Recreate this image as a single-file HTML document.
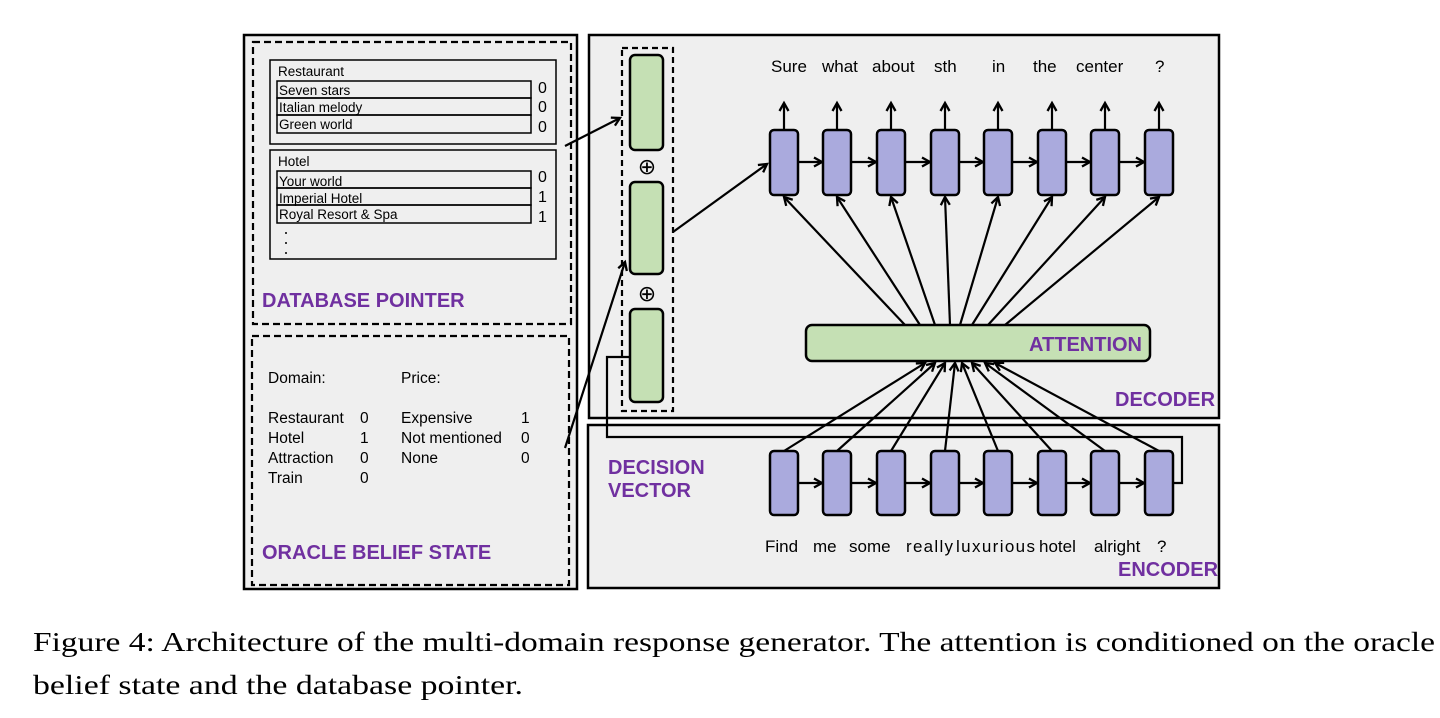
<!DOCTYPE html>
<html><head><meta charset="utf-8"><style>
html,body{margin:0;padding:0;background:#fff;}
svg{display:block;}
.sans{font-family:"Liberation Sans",sans-serif;}
.p{fill:#7030a0;font-weight:bold;font-size:20px;}
.t{font-size:13.5px;}
.s{font-size:16px;}
.cap{font-family:"Liberation Serif",serif;font-size:27px;}
</style></head><body>
<svg width="1440" height="718" viewBox="0 0 1440 718" xmlns="http://www.w3.org/2000/svg">
<defs>
<marker id="a" markerWidth="12" markerHeight="12" refX="9" refY="6" orient="auto" markerUnits="userSpaceOnUse">
<path d="M1,1.5 L9,6 L1,10.5" fill="none" stroke="#000" stroke-width="2.3"/>
</marker>
</defs>
<g class="sans">
<!-- left panel -->
<rect x="244" y="35" width="333" height="554" fill="#efefef" stroke="#000" stroke-width="2.5"/>
<rect x="253" y="42" width="318" height="282" fill="none" stroke="#000" stroke-width="2.2" stroke-dasharray="7,4"/>
<rect x="252" y="336" width="317" height="249" fill="none" stroke="#000" stroke-width="2.2" stroke-dasharray="7,4"/>
<rect x="270" y="60" width="286" height="84" fill="none" stroke="#000" stroke-width="1.5"/>
<text x="278" y="76" class="t">Restaurant</text>
<rect x="277" y="81" width="254" height="17" fill="none" stroke="#000" stroke-width="1.5"/>
<rect x="277" y="98" width="254" height="17" fill="none" stroke="#000" stroke-width="1.5"/>
<rect x="277" y="115" width="254" height="18" fill="none" stroke="#000" stroke-width="1.5"/>
<text x="279" y="95" class="t">Seven stars</text>
<text x="279" y="112" class="t">Italian melody</text>
<text x="279" y="129" class="t">Green world</text>
<text x="538" y="93" class="s">0</text><text x="538" y="112" class="s">0</text><text x="538" y="132" class="s">0</text>
<rect x="270" y="150" width="286" height="109" fill="none" stroke="#000" stroke-width="1.5"/>
<text x="278" y="166" class="t">Hotel</text>
<rect x="277" y="171" width="254" height="17" fill="none" stroke="#000" stroke-width="1.5"/>
<rect x="277" y="188" width="254" height="17" fill="none" stroke="#000" stroke-width="1.5"/>
<rect x="277" y="205" width="254" height="18" fill="none" stroke="#000" stroke-width="1.5"/>
<text x="279" y="186" class="t">Your world</text>
<text x="279" y="203" class="t">Imperial Hotel</text>
<text x="279" y="219" class="t">Royal Resort &amp; Spa</text>
<text x="538" y="182" class="s">0</text><text x="538" y="202" class="s">1</text><text x="538" y="222" class="s">1</text>
<circle cx="286" cy="233" r="1" fill="#000"/><circle cx="286" cy="243" r="1" fill="#000"/><circle cx="286" cy="253" r="1" fill="#000"/>
<text x="262" y="307" class="p">DATABASE POINTER</text>
<text x="268" y="383" font-size="15.5">Domain:</text><text x="401" y="383" font-size="15.5">Price:</text>
<text x="268" y="423" font-size="15.5">Restaurant</text><text x="360" y="423" font-size="15.5">0</text>
<text x="268" y="443" font-size="15.5">Hotel</text><text x="360" y="443" font-size="15.5">1</text>
<text x="268" y="463" font-size="15.5">Attraction</text><text x="360" y="463" font-size="15.5">0</text>
<text x="268" y="483" font-size="15.5">Train</text><text x="360" y="483" font-size="15.5">0</text>
<text x="401" y="423" font-size="15.5">Expensive</text><text x="521" y="423" font-size="15.5">1</text>
<text x="401" y="443" font-size="15.5">Not mentioned</text><text x="521" y="443" font-size="15.5">0</text>
<text x="401" y="463" font-size="15.5">None</text><text x="521" y="463" font-size="15.5">0</text>
<text x="262" y="559" class="p">ORACLE BELIEF STATE</text>
<!-- decoder / encoder panels -->
<rect x="589" y="35" width="630" height="383" fill="#efefef" stroke="#000" stroke-width="2.5"/>
<rect x="588" y="425" width="631" height="163" fill="#efefef" stroke="#000" stroke-width="2.5"/>
<text x="1115" y="406" class="p" font-size="19">DECODER</text>
<text x="1118" y="576" class="p" font-size="19">ENCODER</text>
<text x="608" y="474" class="p" font-size="19">DECISION</text>
<text x="608" y="497" class="p" font-size="19">VECTOR</text>
<!-- feedback line -->
<polyline points="1172,483 1182,483 1182,437 607,437 607,357 630,357" fill="none" stroke="#000" stroke-width="2.2"/>
<!-- decision vector column -->
<rect x="622" y="48" width="51" height="363" fill="none" stroke="#000" stroke-width="2.2" stroke-dasharray="6,4"/>
<rect x="630" y="55" width="33" height="95" rx="5" fill="#c5e0b4" stroke="#000" stroke-width="2.5"/>
<rect x="630" y="182" width="33" height="92" rx="5" fill="#c5e0b4" stroke="#000" stroke-width="2.5"/>
<rect x="630" y="309" width="33" height="93" rx="5" fill="#c5e0b4" stroke="#000" stroke-width="2.5"/>
<text x="647" y="174" font-size="22" text-anchor="middle" font-family="DejaVu Sans,sans-serif">⊕</text>
<text x="647" y="301" font-size="22" text-anchor="middle" font-family="DejaVu Sans,sans-serif">⊕</text>
<!-- arrows into column -->
<line x1="565" y1="146" x2="620" y2="118" stroke="#000" stroke-width="2.2" marker-end="url(#a)"/>
<line x1="565" y1="448" x2="625" y2="262" stroke="#000" stroke-width="2.2" marker-end="url(#a)"/>
<line x1="673" y1="232" x2="767" y2="164" stroke="#000" stroke-width="2.2" marker-end="url(#a)"/>
<!-- attention -->
<g stroke="#000" stroke-width="2.2" fill="none">
<line x1="905" y1="325" x2="784" y2="197" marker-end="url(#a)"/>
<line x1="920" y1="325" x2="837" y2="197" marker-end="url(#a)"/>
<line x1="935" y1="325" x2="891" y2="197" marker-end="url(#a)"/>
<line x1="950" y1="325" x2="945" y2="197" marker-end="url(#a)"/>
<line x1="960" y1="325" x2="998" y2="197" marker-end="url(#a)"/>
<line x1="972" y1="325" x2="1052" y2="197" marker-end="url(#a)"/>
<line x1="988" y1="325" x2="1105" y2="197" marker-end="url(#a)"/>
<line x1="1005" y1="325" x2="1159" y2="197" marker-end="url(#a)"/>
<line x1="784" y1="451" x2="925" y2="363" marker-end="url(#a)"/>
<line x1="837" y1="451" x2="935" y2="363" marker-end="url(#a)"/>
<line x1="891" y1="451" x2="945" y2="363" marker-end="url(#a)"/>
<line x1="945" y1="451" x2="955" y2="363" marker-end="url(#a)"/>
<line x1="998" y1="451" x2="962" y2="363" marker-end="url(#a)"/>
<line x1="1052" y1="451" x2="972" y2="363" marker-end="url(#a)"/>
<line x1="1105" y1="451" x2="985" y2="363" marker-end="url(#a)"/>
<line x1="1159" y1="451" x2="995" y2="363" marker-end="url(#a)"/>
</g>
<rect x="806" y="325" width="344" height="36" rx="6" fill="#c5e0b4" stroke="#000" stroke-width="2.5"/>
<text x="1142" y="351" class="p" font-size="19" text-anchor="end">ATTENTION</text>
<!-- cell arrows -->
<g stroke="#000" stroke-width="2.2" fill="none">
<line x1="784" y1="130" x2="784" y2="103" marker-end="url(#a)"/>
<line x1="837" y1="130" x2="837" y2="103" marker-end="url(#a)"/>
<line x1="891" y1="130" x2="891" y2="103" marker-end="url(#a)"/>
<line x1="945" y1="130" x2="945" y2="103" marker-end="url(#a)"/>
<line x1="998" y1="130" x2="998" y2="103" marker-end="url(#a)"/>
<line x1="1052" y1="130" x2="1052" y2="103" marker-end="url(#a)"/>
<line x1="1105" y1="130" x2="1105" y2="103" marker-end="url(#a)"/>
<line x1="1159" y1="130" x2="1159" y2="103" marker-end="url(#a)"/>
<line x1="798" y1="162" x2="822" y2="162" marker-end="url(#a)"/>
<line x1="851" y1="162" x2="876" y2="162" marker-end="url(#a)"/>
<line x1="905" y1="162" x2="930" y2="162" marker-end="url(#a)"/>
<line x1="959" y1="162" x2="983" y2="162" marker-end="url(#a)"/>
<line x1="1012" y1="162" x2="1037" y2="162" marker-end="url(#a)"/>
<line x1="1066" y1="162" x2="1090" y2="162" marker-end="url(#a)"/>
<line x1="1119" y1="162" x2="1144" y2="162" marker-end="url(#a)"/>
<line x1="798" y1="483" x2="822" y2="483" marker-end="url(#a)"/>
<line x1="851" y1="483" x2="876" y2="483" marker-end="url(#a)"/>
<line x1="905" y1="483" x2="930" y2="483" marker-end="url(#a)"/>
<line x1="959" y1="483" x2="983" y2="483" marker-end="url(#a)"/>
<line x1="1012" y1="483" x2="1037" y2="483" marker-end="url(#a)"/>
<line x1="1066" y1="483" x2="1090" y2="483" marker-end="url(#a)"/>
<line x1="1119" y1="483" x2="1144" y2="483" marker-end="url(#a)"/>
</g>
<g fill="#aaaadd" stroke="#000" stroke-width="2.5">
<rect x="770" y="130" width="28" height="65" rx="4"/><rect x="823" y="130" width="28" height="65" rx="4"/>
<rect x="877" y="130" width="28" height="65" rx="4"/><rect x="931" y="130" width="28" height="65" rx="4"/>
<rect x="984" y="130" width="28" height="65" rx="4"/><rect x="1038" y="130" width="28" height="65" rx="4"/>
<rect x="1091" y="130" width="28" height="65" rx="4"/><rect x="1145" y="130" width="28" height="65" rx="4"/>
<rect x="770" y="451" width="28" height="64" rx="4"/><rect x="823" y="451" width="28" height="64" rx="4"/>
<rect x="877" y="451" width="28" height="64" rx="4"/><rect x="931" y="451" width="28" height="64" rx="4"/>
<rect x="984" y="451" width="28" height="64" rx="4"/><rect x="1038" y="451" width="28" height="64" rx="4"/>
<rect x="1091" y="451" width="28" height="64" rx="4"/><rect x="1145" y="451" width="28" height="64" rx="4"/>
</g>
<text x="771" y="72" font-size="17">Sure</text><text x="822" y="72" font-size="17">what</text>
<text x="872" y="72" font-size="17">about</text><text x="934" y="72" font-size="17">sth</text>
<text x="992" y="72" font-size="17">in</text><text x="1033" y="72" font-size="17">the</text>
<text x="1076" y="72" font-size="17">center</text><text x="1155" y="72" font-size="17">?</text>
<text x="765" y="552" font-size="17">Find</text><text x="813" y="552" font-size="17">me</text>
<text x="849" y="552" font-size="17">some</text><text x="906" y="552" font-size="17" textLength="47">really</text>
<text x="956" y="552" font-size="17" textLength="79">luxurious</text><text x="1039" y="552" font-size="17">hotel</text>
<text x="1094" y="552" font-size="17">alright</text><text x="1157" y="552" font-size="17">?</text>
</g>
<!-- caption -->
<text x="33" y="651" class="cap" textLength="1402" lengthAdjust="spacingAndGlyphs">Figure 4: Architecture of the multi-domain response generator. The attention is conditioned on the oracle</text>
<text x="33" y="694" class="cap" textLength="490" lengthAdjust="spacingAndGlyphs">belief state and the database pointer.</text>
</svg>
</body></html>
